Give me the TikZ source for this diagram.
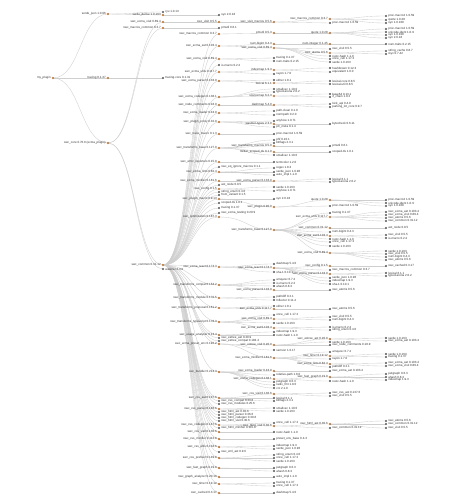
\documentclass[tikz,border=0pt]{standalone}
\usepackage{fontspec}
\setmainfont{Liberation Sans}
\usetikzlibrary{calc,backgrounds}
\definecolor{linkgray}{HTML}{CFCFCF}
\definecolor{dotorange}{HTML}{EE9A4D}
\definecolor{dotdark}{HTML}{555555}
\definecolor{textgray}{HTML}{333333}

\begin{document}
\begin{tikzpicture}[x=1pt,y=-1pt,
    dot/.style={circle,inner sep=0pt,minimum size=2.2pt},
    crate/.style={dot,fill=dotorange,draw=dotorange!70!black,line width=0.2pt},
    leaf/.style={dot,fill=dotdark},
    lbl/.style={font=\fontsize{3}{3.4}\selectfont,text=textgray,inner sep=0.4pt},
    link/.style={draw=linkgray,line width=0.35pt,
      to path={.. controls ($(\tikztostart)!.5!(\tikztostart-|\tikztotarget)$)
        and ($(\tikztotarget)!.5!(\tikztotarget-|\tikztostart)$) .. (\tikztotarget)}},
    label distance=0.5pt
]
\useasboundingbox (0,0) rectangle (474,500);

% root and first levels
\node[crate,label={[lbl]left:my\_plugin}] (a78) at (53,78) {};
\foreach \y/\txt in {14/{serde\_json 1.0.96},78/{tracing 0.1.37},143/{swc\_core 0.76.0 (ecma\_plugin)}}
  \node[crate,label={[lbl]left:\txt}] (b\y) at (108,\y) {};
\foreach \y/\txt in {15/{serde\_derive 1.0.163},22/{swc\_ecma\_visit 0.89.4},28/{swc\_macros\_common 0.3.7},265/{swc\_common 0.31.12}}
  \node[crate,label={[lbl]left:\txt}] (c\y) at (163,\y) {};
\foreach \y/\txt in {12/{ryu 1.0.13},78/{tracing-core 0.1.31},269/{wasmer 2.3.0}}
  \node[leaf,label={[lbl]right:\txt}] (c\y) at (163,\y) {};

% column d
\foreach \y/\txt in {22/{swc\_visit 0.5.5},34/{swc\_macros\_common 0.3.7},46/{swc\_ecma\_ast 0.103.4},
    59/{swc\_ecma\_visit 0.89.4},72/{swc\_ecma\_utils 0.117.7},81/{swc\_ecma\_parser 0.133.9},
    97/{swc\_ecma\_codegen 0.138.1},105/{swc\_node\_comments 0.18.9},113/{swc\_ecma\_loader 0.43.9},
    122/{swc\_plugin\_proxy 0.32.9},134/{swc\_trace\_macro 0.1.3},148/{swc\_transforms\_base 0.127.0},
    162/{swc\_error\_reporters 0.15.9},172/{swc\_ecma\_lints 0.82.4},181/{swc\_ecma\_minifier 0.181.6},
    189/{swc\_config 0.1.5},199/{swc\_plugin\_macro 0.9.13},217/{swc\_optimization 0.187.3},
    267/{swc\_ecma\_react 0.174.3},285/{swc\_transforms\_compat 0.153.2},
    298/{swc\_transforms\_module 0.170.5},308/{swc\_transforms\_proposal 0.161.2},
    322/{swc\_transforms\_typescript 0.178.3},335/{swc\_usage\_analyzer 0.13.4},
    344/{swc\_ecma\_preset\_env 0.192.2},372/{swc\_bundler 0.213.3},398/{swc\_css\_ast 0.137.6},
    409/{swc\_css\_parser 0.146.6},425/{swc\_css\_codegen 0.147.6},432/{swc\_css\_visit 0.136.6},
    439/{swc\_css\_minifier 0.112.8},447/{swc\_css\_utils 0.134.6},458/{swc\_css\_prefixer 0.149.8},
    468/{swc\_fast\_graph 0.19.9},477/{swc\_graph\_analyzer 0.20.10},484/{swc\_timer 0.19.12},
    493/{swc\_cached 0.3.17}}
  \node[crate,label={[lbl]left:\txt}] (d\y) at (219,\y) {};
\foreach \y/\txt in {15/{syn 2.0.18},28/{pmutil 0.6.1},65/{is-macro 0.2.2},167/{swc\_eq\_ignore\_macros 0.1.1},
    185/{ast\_node 0.9.5},192/{string\_enum 0.4.0},195/{from\_variant 0.1.5},203/{scoped-tls 1.0.1},
    208/{tracing 0.1.37},213/{swc\_ecma\_testing 0.20.9},338/{swc\_estree\_ast 0.20.9},
    341/{swc\_estree\_compat 0.183.4},401/{swc\_css\_compat 0.23.6},404/{swc\_css\_modules 0.25.6},
    412/{swc\_html\_ast 0.30.6},415/{swc\_html\_parser 0.36.6},418/{swc\_html\_codegen 0.39.6},
    421/{swc\_html\_visit 0.30.6},428/{swc\_html\_minifier 0.115.8},452/{swc\_xml\_ast 0.9.6}}
  \node[leaf,label={[lbl]right:\txt}] (d\y) at (219,\y) {};

% column e
\foreach \y/\txt in {22/{swc\_visit\_macros 0.5.6},33/{pmutil 0.5.3},44/{num-bigint 0.4.3},
    48/{swc\_ecma\_visit 0.89.4},70/{indexmap 1.9.3},83/{lexical 6.1.1},96/{sourcemap 6.2.3},
    105/{dashmap 5.4.0},124/{wasmer-types 2.3.0},146/{swc\_transforms\_macros 0.5.0},
    152/{better\_scoped\_tls 0.1.0},181/{swc\_ecma\_parser 0.133.9},207/{swc\_plugin 0.90.0},
    230/{swc\_transforms\_base 0.127.0},268/{swc\_ecma\_react 0.174.3},290/{swc\_ecma\_parser 0.133.9},
    309/{swc\_ecma\_utils 0.117.7},319/{swc\_ecma\_visit 0.89.4},328/{swc\_ecma\_ast 0.103.4},
    345/{swc\_estree\_visit 0.20.9},358/{swc\_ecma\_minifier 0.181.6},371/{swc\_ecma\_loader 0.43.9},
    379/{swc\_ecma\_codegen 0.138.1},394/{swc\_css\_visit 0.136.6},426/{swc\_html\_visit 0.30.6}}
  \node[crate,label={[lbl]left:\txt}] (e\y) at (274,\y) {};
\foreach \y/\txt in {58/{tracing 0.1.37},61/{num-traits 0.2.15},74/{rayon 1.7.0},80/{either 1.8.1},
    89/{smallvec 1.10.0},92/{typed-arena 2.0.2},111/{path-clean 0.1.0},115/{normpath 0.2.0},
    121/{anyhow 1.0.71},127/{ptr\_meta 0.1.4},134/{proc-macro2 1.0.59},140/{phf 0.10.1},
    143/{bitflags 2.3.1},155/{smallvec 1.10.0},162/{termcolor 1.2.0},168/{regex 1.8.3},
    172/{serde\_json 1.0.96},175/{auto\_impl 1.1.0},187/{serde 1.0.163},191/{anyhow 1.0.71},
    199/{syn 2.0.18},264/{dashmap 5.4.0},272/{sha-1 0.10.1},280/{arrayvec 0.7.2},283/{is-macro 0.2.2},
    286/{ahash 0.8.3},297/{pathdiff 0.2.1},300/{Inflector 0.11.4},306/{either 1.8.1},
    315/{once\_cell 1.17.2},323/{serde 1.0.163},332/{indexmap 1.9.3},335/{rustc-hash 1.1.0},
    350/{semver 1.0.17},375/{relative-path 1.8.0},382/{petgraph 0.6.3},385/{radix\_fmt 1.0.0},
    388/{crc 2.1.0},398/{lexical 6.1.1},401/{bitflags 2.3.1},408/{smallvec 1.10.0},411/{serde 1.0.163},
    423/{once\_cell 1.17.2},432/{rustc-hash 1.1.0},439/{preset\_env\_base 0.4.3},446/{indexmap 1.9.3},
    449/{serde\_json 1.0.96},455/{string\_enum 0.4.0},458/{once\_cell 1.17.2},461/{serde 1.0.163},
    468/{petgraph 0.6.3},471/{ahash 0.8.3},477/{auto\_impl 1.1.0},483/{tracing 0.1.37},
    486/{once\_cell 1.17.2},493/{dashmap 5.4.0}}
  \node[leaf,label={[lbl]right:\txt}] (e\y) at (274,\y) {};

% column f
\foreach \y/\txt in {19/{swc\_macros\_common 0.3.7},33/{quote 1.0.28},44/{num-integer 0.1.45},
    53/{swc\_atoms 0.5.6},200/{quote 1.0.28},217/{swc\_ecma\_utils 0.117.7},228/{swc\_common 0.31.12},
    236/{swc\_ecma\_ast 0.103.4},253/{swc\_ecma\_visit 0.89.4},266/{swc\_config 0.1.5},
    274/{swc\_ecma\_parser 0.133.9},339/{swc\_estree\_ast 0.20.9},356/{swc\_timer 0.19.12},
    364/{swc\_ecma\_lints 0.82.4},377/{swc\_fast\_graph 0.19.9},424/{swc\_html\_ast 0.30.6}}
  \node[crate,label={[lbl]left:\txt}] (f\y) at (330,\y) {};
\foreach \y/\txt in {23/{proc-macro2 1.0.59},49/{swc\_visit 0.5.5},56/{rustc-hash 1.1.0},
    59/{once\_cell 1.17.2},62/{serde 1.0.163},68/{hashbrown 0.12.3},72/{equivalent 1.0.0},
    81/{lexical-core 0.8.5},84/{lexical-util 0.8.5},94/{base64 0.13.1},97/{if\_chain 1.0.2},
    104/{lock\_api 0.4.9},107/{parking\_lot\_core 0.9.7},124/{bytecheck 0.6.11},146/{pmutil 0.6.1},
    152/{scoped-tls 1.0.1},179/{lexical 6.1.1},182/{typed-arena 2.0.2},206/{proc-macro2 1.0.59},
    213/{tracing 0.1.37},232/{num-bigint 0.4.3},239/{rustc-hash 1.1.0},242/{once\_cell 1.17.2},
    246/{serde 1.0.163},270/{swc\_macros\_common 0.3.7},278/{serde\_json 1.0.96},281/{indexmap 1.9.3},
    284/{sha-1 0.10.1},290/{swc\_atoms 0.5.6},309/{swc\_atoms 0.5.6},317/{swc\_visit 0.5.5},
    320/{num-bigint 0.4.3},327/{is-macro 0.2.2},330/{string\_enum 0.4.0},342/{serde 1.0.163},
    345/{swc\_node\_comments 0.18.9},352/{arrayvec 0.7.2},359/{rayon 1.7.0},367/{pathdiff 0.2.1},
    371/{swc\_ecma\_ast 0.103.4},381/{rustc-hash 1.1.0},393/{swc\_css\_ast 0.137.6},
    396/{swc\_visit 0.5.5},428/{swc\_common 0.31.12}}
  \node[leaf,label={[lbl]right:\txt}] (f\y) at (330,\y) {};

% column g
\foreach \y/\txt in {16/{proc-macro2 1.0.59},20/{quote 1.0.28},23/{syn 1.0.109},29/{proc-macro2 1.0.59},
    32/{unicode-ident 1.0.9},35/{syn 1.0.109},38/{syn 2.0.18},44/{num-traits 0.2.15},
    51/{string\_cache 0.8.7},54/{rkyv 0.7.42},200/{proc-macro2 1.0.59},203/{unicode-ident 1.0.9},
    206/{syn 1.0.109},212/{swc\_ecma\_ast 0.103.4},215/{swc\_ecma\_visit 0.89.4},218/{swc\_atoms 0.5.6},
    221/{swc\_common 0.31.12},228/{ast\_node 0.9.5},235/{swc\_visit 0.5.5},238/{is-macro 0.2.2},
    251/{serde 1.0.163},254/{swc\_visit 0.5.5},257/{num-bigint 0.4.3},260/{swc\_atoms 0.5.6},
    266/{swc\_cached 0.3.17},273/{lexical 6.1.1},276/{typed-arena 2.0.2},338/{serde 1.0.163},
    341/{swc\_ecma\_ast 0.103.4},354/{serde 1.0.163},357/{tracing 0.1.37},363/{swc\_ecma\_ast 0.103.4},
    366/{swc\_ecma\_visit 0.89.4},374/{petgraph 0.6.3},377/{ahash 0.8.3},380/{indexmap 1.9.3},
    421/{swc\_atoms 0.5.6},424/{swc\_common 0.31.12},428/{swc\_visit 0.5.5}}
  \node[leaf,label={[lbl]right:\txt}] (g\y) at (386,\y) {};

\begin{scope}[on background layer]
\fill[white] (0,0) rectangle (474,500);
% fan of the hub
\foreach \dst in {34,46,59,65,72,81,97,105,113,122,134,148,162,167,172,181,185,189,192,195,199,
    203,208,213,217,267,285,298,308,322,335,338,341,344,372,398,401,404,409,412,415,418,421,
    425,428,432,439,447,452,458,468,477,484,493}
  \draw[link] (c265.center) to (d\dst.center);
% the other dependencies
\foreach \src/\dst in {a78/b14,a78/b78,a78/b143,b14/c12,b14/c15,b78/c78,b143/c22,b143/c28,
    b143/c265,b143/c269,c15/d15,c22/d22,c28/d28,
    d22/e22,d34/e33,d46/e44,d46/e48,d59/e58,d59/e61,d72/e70,d72/e74,d81/e80,d81/e83,
    d97/e89,d97/e92,d97/e96,d105/e105,d113/e111,d113/e115,d122/e121,d122/e124,d122/e127,
    d134/e134,d148/e140,d148/e143,d148/e146,d148/e152,d148/e155,d162/e162,d172/e168,
    d172/e172,d172/e175,d181/e181,d189/e187,d189/e191,d199/e199,d199/e207,d217/e230,
    d267/e264,d267/e268,d267/e272,d285/e280,d285/e283,d285/e286,d285/e290,d298/e297,
    d298/e300,d308/e306,d308/e309,d322/e315,d322/e319,d322/e323,d322/e328,d335/e332,
    d335/e335,d344/e345,d344/e350,d344/e358,d372/e371,d372/e375,d372/e379,d372/e382,
    d372/e385,d372/e388,d398/e394,d398/e398,d398/e401,d409/e408,d409/e411,d425/e423,
    d425/e426,d432/e432,d439/e439,d447/e446,d447/e449,d458/e455,d458/e458,d458/e461,
    d468/e468,d468/e471,d477/e477,d484/e483,d484/e486,d493/e493,
    e22/f19,e22/f23,e33/f33,e44/f44,e48/f49,e48/f53,e48/f56,e48/f59,e48/f62,e70/f68,
    e70/f72,e83/f81,e83/f84,e96/f94,e96/f97,e105/f104,e105/f107,e124/f124,e146/f146,
    e152/f152,e181/f179,e181/f182,e207/f200,e207/f206,e230/f213,e230/f217,e230/f228,
    e230/f232,e230/f236,e230/f239,e230/f242,e230/f246,e230/f253,e268/f266,e268/f270,
    e268/f274,e268/f278,e268/f281,e268/f284,e290/f290,e309/f309,e319/f317,e319/f320,
    e328/f327,e328/f330,e345/f339,e345/f342,e345/f345,e358/f352,e358/f356,e358/f359,
    e358/f364,e358/f367,e371/f371,e379/f377,e379/f381,e394/f393,e394/f396,e426/f424,
    e426/f428,
    f19/g16,f19/g20,f19/g23,f33/g29,f33/g32,f33/g35,f33/g38,f44/g44,f53/g51,f53/g54,
    f200/g200,f200/g203,f200/g206,f217/g212,f217/g215,f217/g218,f217/g221,f228/g228,
    f236/g235,f236/g238,f253/g251,f253/g254,f253/g257,f253/g260,f266/g266,f274/g273,
    f274/g276,f339/g338,f339/g341,f356/g354,f356/g357,f364/g363,f364/g366,f377/g374,
    f377/g377,f377/g380,f424/g421,f424/g424,f424/g428}
  \draw[link] (\src.center) to (\dst.center);
\end{scope}
\end{tikzpicture}
\end{document}
